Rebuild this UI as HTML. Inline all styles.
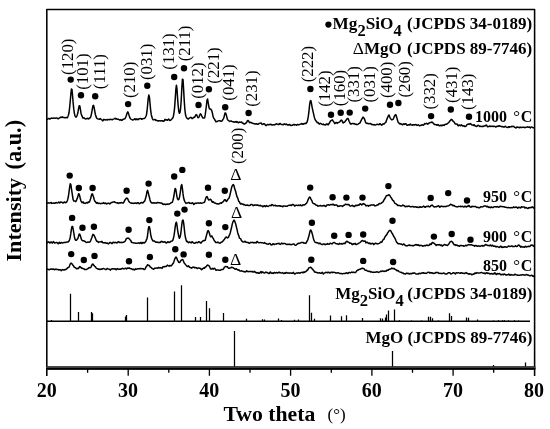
<!DOCTYPE html>
<html lang="en"><head><meta charset="utf-8"><title>XRD patterns</title>
<style>html,body{margin:0;padding:0;background:#fff}svg{display:block}text{font-family:"Liberation Serif","Times New Roman",serif;fill:#000}.b{font-weight:bold}</style></head><body>
<svg width="550" height="429" viewBox="0 0 550 429">
<rect width="550" height="429" fill="#fff"/>
<path d="M46.8,119.0 L47.4,119.3 L48.0,118.9 L48.6,118.5 L49.2,118.6 L49.8,119.1 L50.4,118.8 L51.0,118.2 L51.6,118.1 L52.2,118.2 L52.8,118.2 L53.4,118.2 L54.0,118.1 L54.6,118.1 L55.2,118.3 L55.8,118.2 L56.4,117.9 L57.0,118.0 L57.6,118.6 L58.2,118.8 L58.8,118.3 L59.4,118.0 L60.0,117.7 L60.6,117.2 L61.2,117.5 L61.8,117.3 L62.4,116.8 L63.0,117.5 L63.6,117.6 L64.2,117.5 L64.8,117.8 L65.4,117.7 L66.0,117.5 L66.6,117.5 L67.2,117.9 L67.8,116.8 L68.4,115.3 L69.0,112.8 L69.6,107.8 L70.2,101.8 L70.8,94.8 L71.4,89.0 L72.0,89.6 L72.6,96.2 L73.2,103.5 L73.8,109.4 L74.4,113.4 L75.0,115.7 L75.6,117.0 L76.2,117.0 L76.8,116.1 L77.4,114.5 L78.0,112.0 L78.6,108.5 L79.2,105.7 L79.8,106.0 L80.4,109.4 L81.0,113.2 L81.6,115.1 L82.2,116.3 L82.8,118.1 L83.4,117.9 L84.0,117.8 L84.6,118.4 L85.2,118.8 L85.8,119.1 L86.4,118.7 L87.0,118.4 L87.6,118.3 L88.2,118.8 L88.8,118.9 L89.4,118.0 L90.0,117.9 L90.6,117.2 L91.2,115.1 L91.8,112.1 L92.4,108.7 L93.0,105.7 L93.6,105.3 L94.2,108.0 L94.8,111.4 L95.4,114.5 L96.0,116.4 L96.6,117.9 L97.2,118.6 L97.8,118.9 L98.4,118.9 L99.0,119.1 L99.6,119.3 L100.2,118.6 L100.8,119.2 L101.4,119.6 L102.0,119.9 L102.6,120.9 L103.2,120.4 L103.8,119.3 L104.4,119.7 L105.0,119.8 L105.6,119.9 L106.2,119.6 L106.8,120.0 L107.4,120.0 L108.0,119.4 L108.6,119.6 L109.2,119.7 L109.8,119.5 L110.4,119.3 L111.0,119.4 L111.6,119.6 L112.2,119.7 L112.8,119.5 L113.4,119.1 L114.0,118.9 L114.6,118.6 L115.2,118.2 L115.8,119.0 L116.4,118.8 L117.0,118.9 L117.6,119.3 L118.2,119.2 L118.8,119.5 L119.4,119.7 L120.0,120.3 L120.6,119.6 L121.2,119.8 L121.8,120.4 L122.4,120.1 L123.0,119.3 L123.6,119.3 L124.2,118.9 L124.8,118.8 L125.4,117.9 L126.0,116.5 L126.6,114.7 L127.2,112.8 L127.8,111.8 L128.4,113.1 L129.0,115.1 L129.6,117.1 L130.2,118.4 L130.8,119.0 L131.4,119.4 L132.0,119.7 L132.6,120.0 L133.2,119.9 L133.8,119.6 L134.4,119.1 L135.0,118.7 L135.6,119.7 L136.2,119.7 L136.8,118.8 L137.4,119.1 L138.0,119.8 L138.6,119.2 L139.2,118.7 L139.8,118.8 L140.4,118.4 L141.0,118.6 L141.6,119.3 L142.2,119.0 L142.8,118.8 L143.4,118.6 L144.0,118.6 L144.6,118.3 L145.2,117.7 L145.8,116.5 L146.4,115.2 L147.0,111.2 L147.6,105.1 L148.2,98.6 L148.8,94.9 L149.4,96.7 L150.0,103.2 L150.6,109.6 L151.2,114.2 L151.8,116.8 L152.4,118.6 L153.0,119.7 L153.6,119.9 L154.2,119.7 L154.8,119.4 L155.4,119.7 L156.0,120.4 L156.6,120.3 L157.2,120.6 L157.8,120.9 L158.4,120.8 L159.0,120.9 L159.6,120.7 L160.2,120.9 L160.8,120.8 L161.4,120.7 L162.0,121.0 L162.6,120.8 L163.2,121.2 L163.8,121.3 L164.4,120.5 L165.0,119.2 L165.6,119.9 L166.2,120.0 L166.8,119.7 L167.4,120.3 L168.0,119.9 L168.6,119.0 L169.2,119.7 L169.8,120.4 L170.4,120.3 L171.0,119.9 L171.6,119.5 L172.2,118.4 L172.8,117.9 L173.4,116.2 L174.0,112.8 L174.6,107.6 L175.2,99.4 L175.8,90.0 L176.4,85.2 L177.0,89.2 L177.6,98.6 L178.2,106.0 L178.8,111.5 L179.4,113.3 L180.0,112.3 L180.6,108.3 L181.2,100.5 L181.8,88.8 L182.4,79.2 L183.0,79.6 L183.6,89.0 L184.2,100.1 L184.8,108.8 L185.4,114.0 L186.0,116.5 L186.6,117.7 L187.2,118.4 L187.8,118.9 L188.4,119.1 L189.0,118.3 L189.6,117.9 L190.2,117.7 L190.8,117.3 L191.4,117.7 L192.0,118.6 L192.6,118.6 L193.2,117.8 L193.8,117.2 L194.4,117.4 L195.0,116.8 L195.6,115.4 L196.2,114.5 L196.8,115.0 L197.4,116.5 L198.0,117.7 L198.6,117.6 L199.2,116.5 L199.8,114.9 L200.4,113.8 L201.0,114.3 L201.6,115.6 L202.2,116.8 L202.8,118.0 L203.4,118.1 L204.0,118.1 L204.6,117.8 L205.2,114.9 L205.8,110.5 L206.4,105.6 L207.0,100.1 L207.6,99.0 L208.2,102.6 L208.8,106.5 L209.4,108.7 L210.0,109.1 L210.6,109.1 L211.2,109.6 L211.8,110.8 L212.4,113.0 L213.0,116.0 L213.6,117.9 L214.2,118.8 L214.8,119.6 L215.4,120.9 L216.0,121.7 L216.6,121.5 L217.2,121.6 L217.8,121.2 L218.4,120.9 L219.0,120.7 L219.6,120.8 L220.2,120.8 L220.8,121.2 L221.4,121.3 L222.0,120.8 L222.6,120.1 L223.2,119.0 L223.8,117.8 L224.4,115.6 L225.0,112.9 L225.6,112.9 L226.2,114.6 L226.8,116.9 L227.4,119.3 L228.0,120.2 L228.6,120.6 L229.2,121.0 L229.8,121.4 L230.4,121.1 L231.0,120.9 L231.6,121.4 L232.2,121.6 L232.8,121.7 L233.4,121.7 L234.0,122.3 L234.6,122.1 L235.2,121.6 L235.8,122.0 L236.4,122.3 L237.0,121.6 L237.6,122.0 L238.2,122.8 L238.8,122.6 L239.4,122.1 L240.0,122.1 L240.6,122.3 L241.2,122.3 L241.8,122.0 L242.4,123.1 L243.0,123.3 L243.6,123.5 L244.2,124.2 L244.8,123.8 L245.4,123.3 L246.0,123.1 L246.6,122.5 L247.2,121.1 L247.8,120.5 L248.4,120.7 L249.0,121.8 L249.6,122.7 L250.2,122.5 L250.8,122.3 L251.4,122.7 L252.0,123.1 L252.6,123.2 L253.2,123.4 L253.8,123.7 L254.4,123.8 L255.0,124.0 L255.6,124.0 L256.2,123.8 L256.8,123.8 L257.4,124.2 L258.0,124.3 L258.6,123.9 L259.2,123.4 L259.8,123.3 L260.4,123.1 L261.0,122.8 L261.6,123.7 L262.2,124.4 L262.8,124.3 L263.4,123.8 L264.0,123.7 L264.6,124.1 L265.2,124.8 L265.8,125.6 L266.4,125.5 L267.0,124.8 L267.6,124.4 L268.2,124.6 L268.8,124.9 L269.4,124.4 L270.0,124.5 L270.6,124.3 L271.2,124.4 L271.8,125.0 L272.4,125.0 L273.0,124.8 L273.6,124.7 L274.2,124.9 L274.8,124.8 L275.4,124.3 L276.0,124.0 L276.6,123.8 L277.2,124.1 L277.8,124.4 L278.4,124.3 L279.0,124.5 L279.6,123.7 L280.2,123.4 L280.8,124.2 L281.4,124.5 L282.0,124.4 L282.6,124.7 L283.2,124.8 L283.8,124.1 L284.4,123.8 L285.0,124.4 L285.6,124.6 L286.2,124.0 L286.8,124.3 L287.4,125.0 L288.0,124.9 L288.6,125.1 L289.2,124.4 L289.8,124.5 L290.4,125.3 L291.0,125.6 L291.6,125.3 L292.2,125.3 L292.8,125.0 L293.4,124.8 L294.0,124.3 L294.6,125.0 L295.2,124.7 L295.8,124.7 L296.4,125.3 L297.0,124.7 L297.6,124.5 L298.2,124.7 L298.8,124.7 L299.4,124.6 L300.0,124.3 L300.6,124.1 L301.2,124.1 L301.8,123.5 L302.4,123.8 L303.0,124.3 L303.6,123.8 L304.2,123.5 L304.8,123.7 L305.4,123.3 L306.0,123.5 L306.6,122.8 L307.2,121.7 L307.8,119.3 L308.4,115.7 L309.0,110.8 L309.6,105.2 L310.2,101.2 L310.8,100.5 L311.4,103.0 L312.0,106.6 L312.6,109.6 L313.2,112.1 L313.8,114.8 L314.4,117.4 L315.0,119.1 L315.6,120.5 L316.2,121.1 L316.8,122.0 L317.4,122.7 L318.0,122.5 L318.6,123.2 L319.2,124.1 L319.8,123.7 L320.4,123.3 L321.0,123.7 L321.6,124.1 L322.2,124.5 L322.8,124.4 L323.4,124.0 L324.0,124.7 L324.6,124.8 L325.2,125.0 L325.8,124.8 L326.4,124.0 L327.0,123.9 L327.6,124.5 L328.2,124.8 L328.8,123.8 L329.4,123.0 L330.0,122.0 L330.6,120.9 L331.2,120.5 L331.8,120.2 L332.4,119.8 L333.0,120.9 L333.6,121.7 L334.2,122.7 L334.8,123.6 L335.4,123.1 L336.0,122.4 L336.6,122.5 L337.2,123.4 L337.8,122.6 L338.4,122.4 L339.0,122.4 L339.6,122.0 L340.2,121.3 L340.8,120.4 L341.4,120.1 L342.0,120.6 L342.6,122.0 L343.2,123.0 L343.8,122.5 L344.4,122.3 L345.0,121.7 L345.6,120.7 L346.2,120.1 L346.8,119.1 L347.4,118.4 L348.0,118.4 L348.6,119.7 L349.2,121.5 L349.8,122.6 L350.4,123.9 L351.0,124.2 L351.6,123.7 L352.2,123.6 L352.8,123.6 L353.4,123.6 L354.0,123.9 L354.6,123.5 L355.2,124.2 L355.8,124.4 L356.4,124.3 L357.0,124.4 L357.6,124.4 L358.2,124.1 L358.8,123.7 L359.4,123.3 L360.0,122.9 L360.6,121.6 L361.2,120.4 L361.8,119.2 L362.4,118.1 L363.0,117.1 L363.6,117.7 L364.2,118.4 L364.8,119.9 L365.4,121.8 L366.0,123.0 L366.6,123.3 L367.2,123.5 L367.8,123.3 L368.4,123.7 L369.0,123.7 L369.6,123.7 L370.2,123.4 L370.8,123.7 L371.4,124.4 L372.0,124.3 L372.6,124.6 L373.2,124.9 L373.8,124.5 L374.4,124.7 L375.0,125.1 L375.6,125.0 L376.2,124.7 L376.8,124.3 L377.4,124.3 L378.0,124.4 L378.6,124.7 L379.2,124.5 L379.8,123.7 L380.4,123.8 L381.0,124.7 L381.6,125.2 L382.2,124.9 L382.8,123.9 L383.4,124.1 L384.0,124.2 L384.6,123.1 L385.2,122.9 L385.8,122.5 L386.4,120.6 L387.0,118.9 L387.6,117.7 L388.2,116.1 L388.8,115.0 L389.4,116.0 L390.0,117.6 L390.6,118.6 L391.2,119.4 L391.8,119.8 L392.4,119.6 L393.0,119.3 L393.6,118.3 L394.2,116.7 L394.8,115.6 L395.4,114.7 L396.0,115.0 L396.6,117.1 L397.2,119.0 L397.8,121.2 L398.4,122.6 L399.0,123.0 L399.6,123.9 L400.2,124.1 L400.8,123.5 L401.4,124.2 L402.0,124.5 L402.6,124.7 L403.2,123.9 L403.8,123.8 L404.4,124.5 L405.0,124.1 L405.6,123.7 L406.2,124.0 L406.8,125.1 L407.4,125.3 L408.0,124.9 L408.6,124.7 L409.2,125.1 L409.8,124.4 L410.4,124.0 L411.0,124.9 L411.6,125.1 L412.2,125.0 L412.8,125.2 L413.4,124.7 L414.0,124.7 L414.6,125.0 L415.2,124.7 L415.8,124.5 L416.4,124.8 L417.0,125.4 L417.6,125.2 L418.2,124.8 L418.8,125.2 L419.4,125.8 L420.0,125.6 L420.6,125.5 L421.2,125.3 L421.8,124.8 L422.4,124.8 L423.0,125.1 L423.6,125.2 L424.2,124.3 L424.8,123.6 L425.4,123.9 L426.0,123.7 L426.6,123.3 L427.2,123.7 L427.8,124.2 L428.4,123.7 L429.0,123.2 L429.6,122.8 L430.2,122.5 L430.8,122.6 L431.4,122.3 L432.0,121.9 L432.6,122.7 L433.2,123.1 L433.8,123.7 L434.4,124.5 L435.0,124.4 L435.6,124.7 L436.2,124.7 L436.8,125.2 L437.4,125.0 L438.0,124.5 L438.6,125.1 L439.2,125.8 L439.8,125.8 L440.4,125.5 L441.0,125.1 L441.6,125.7 L442.2,125.6 L442.8,125.0 L443.4,125.1 L444.0,125.5 L444.6,124.9 L445.2,124.4 L445.8,124.2 L446.4,124.2 L447.0,124.0 L447.6,123.4 L448.2,123.0 L448.8,122.6 L449.4,121.5 L450.0,120.9 L450.6,120.3 L451.2,119.3 L451.8,119.6 L452.4,120.3 L453.0,121.2 L453.6,121.7 L454.2,122.1 L454.8,123.2 L455.4,123.9 L456.0,123.9 L456.6,123.9 L457.2,124.2 L457.8,125.4 L458.4,125.8 L459.0,124.9 L459.6,125.2 L460.2,125.7 L460.8,125.5 L461.4,124.9 L462.0,125.4 L462.6,126.1 L463.2,126.0 L463.8,125.7 L464.4,126.1 L465.0,126.6 L465.6,126.3 L466.2,126.0 L466.8,124.8 L467.4,124.4 L468.0,124.2 L468.6,124.0 L469.2,124.2 L469.8,124.0 L470.4,123.5 L471.0,124.0 L471.6,124.8 L472.2,124.9 L472.8,125.2 L473.4,125.5 L474.0,124.7 L474.6,125.1 L475.2,126.0 L475.8,126.1 L476.4,126.5 L477.0,126.3 L477.6,125.4 L478.2,125.3 L478.8,125.7 L479.4,126.1 L480.0,126.6 L480.6,126.2 L481.2,126.4 L481.8,126.4 L482.4,126.3 L483.0,126.6 L483.6,126.2 L484.2,126.0 L484.8,125.8 L485.4,125.7 L486.0,125.1 L486.6,125.2 L487.2,126.3 L487.8,126.8 L488.4,126.6 L489.0,126.6 L489.6,125.9 L490.2,126.2 L490.8,126.5 L491.4,126.3 L492.0,126.2 L492.6,126.4 L493.2,126.3 L493.8,126.4 L494.4,126.2 L495.0,126.4 L495.6,127.1 L496.2,126.9 L496.8,126.2 L497.4,126.3 L498.0,126.4 L498.6,125.9 L499.2,125.7 L499.8,126.2 L500.4,126.2 L501.0,126.3 L501.6,126.7 L502.2,126.7 L502.8,126.6 L503.4,126.8 L504.0,127.2 L504.6,126.8 L505.2,126.2 L505.8,126.7 L506.4,127.1 L507.0,127.4 L507.6,127.6 L508.2,127.0 L508.8,126.7 L509.4,127.2 L510.0,126.7 L510.6,126.9 L511.2,126.8 L511.8,126.2 L512.4,126.5 L513.0,126.6 L513.6,126.3 L514.2,126.9 L514.8,127.3 L515.4,127.7 L516.0,128.0 L516.6,127.2 L517.2,127.0 L517.8,127.3 L518.4,127.3 L519.0,127.6 L519.6,127.7 L520.2,127.0 L520.8,127.4 L521.4,127.4 L522.0,127.4 L522.6,127.3 L523.2,127.3 L523.8,127.2 L524.4,127.5 L525.0,127.7 L525.6,127.3 L526.2,127.3 L526.8,127.1 L527.4,126.8 L528.0,127.2 L528.6,127.3 L529.2,126.9 L529.8,127.4 L530.4,127.9 L531.0,127.1 L531.6,126.9 L532.2,127.3 L532.8,127.7 L533.4,127.7 L534.0,127.7 L534.6,127.6" fill="none" stroke="#000" stroke-width="1.5" stroke-linejoin="round"/>
<path d="M46.8,203.0 L47.4,203.1 L48.0,202.8 L48.6,202.9 L49.2,203.1 L49.8,203.1 L50.4,202.8 L51.0,202.5 L51.6,203.4 L52.2,203.2 L52.8,203.3 L53.4,202.9 L54.0,203.0 L54.6,203.2 L55.2,203.2 L55.8,202.7 L56.4,202.5 L57.0,202.9 L57.6,202.9 L58.2,202.6 L58.8,202.0 L59.4,202.9 L60.0,202.8 L60.6,202.0 L61.2,202.2 L61.8,202.3 L62.4,202.4 L63.0,203.1 L63.6,202.7 L64.2,202.0 L64.8,202.1 L65.4,202.7 L66.0,202.5 L66.6,202.2 L67.2,201.0 L67.8,199.2 L68.4,196.5 L69.0,192.1 L69.6,187.6 L70.2,183.8 L70.8,184.3 L71.4,188.3 L72.0,192.3 L72.6,196.5 L73.2,199.8 L73.8,201.1 L74.4,201.0 L75.0,200.9 L75.6,201.6 L76.2,201.0 L76.8,199.4 L77.4,198.2 L78.0,196.0 L78.6,193.7 L79.2,194.1 L79.8,196.3 L80.4,199.1 L81.0,201.0 L81.6,202.1 L82.2,202.8 L82.8,202.1 L83.4,202.1 L84.0,203.3 L84.6,203.3 L85.2,203.4 L85.8,203.0 L86.4,202.6 L87.0,203.0 L87.6,203.0 L88.2,202.0 L88.8,202.3 L89.4,201.9 L90.0,200.6 L90.6,198.7 L91.2,196.3 L91.8,194.2 L92.4,193.8 L93.0,195.4 L93.6,197.2 L94.2,199.5 L94.8,201.2 L95.4,201.6 L96.0,202.6 L96.6,203.2 L97.2,202.6 L97.8,203.3 L98.4,203.6 L99.0,203.1 L99.6,203.4 L100.2,203.7 L100.8,203.6 L101.4,203.5 L102.0,203.2 L102.6,203.4 L103.2,203.3 L103.8,202.6 L104.4,203.4 L105.0,203.5 L105.6,203.1 L106.2,203.8 L106.8,203.9 L107.4,203.4 L108.0,203.3 L108.6,203.3 L109.2,203.4 L109.8,203.9 L110.4,203.4 L111.0,202.7 L111.6,202.6 L112.2,202.5 L112.8,202.0 L113.4,202.1 L114.0,202.0 L114.6,201.8 L115.2,202.4 L115.8,202.7 L116.4,202.9 L117.0,202.7 L117.6,202.7 L118.2,203.4 L118.8,203.3 L119.4,202.9 L120.0,202.7 L120.6,203.0 L121.2,202.7 L121.8,202.5 L122.4,202.9 L123.0,203.2 L123.6,202.7 L124.2,201.7 L124.8,200.1 L125.4,199.5 L126.0,198.6 L126.6,198.1 L127.2,198.3 L127.8,199.0 L128.4,200.6 L129.0,201.5 L129.6,202.3 L130.2,202.7 L130.8,203.0 L131.4,203.0 L132.0,203.3 L132.6,203.1 L133.2,203.5 L133.8,203.3 L134.4,203.3 L135.0,203.0 L135.6,202.9 L136.2,203.4 L136.8,203.6 L137.4,202.7 L138.0,202.7 L138.6,203.0 L139.2,203.8 L139.8,203.6 L140.4,203.2 L141.0,202.7 L141.6,202.5 L142.2,202.8 L142.8,203.1 L143.4,202.3 L144.0,201.7 L144.6,201.2 L145.2,199.5 L145.8,197.5 L146.4,195.0 L147.0,191.5 L147.6,190.4 L148.2,192.4 L148.8,195.0 L149.4,197.2 L150.0,199.9 L150.6,201.8 L151.2,202.4 L151.8,203.0 L152.4,202.9 L153.0,202.8 L153.6,202.9 L154.2,202.8 L154.8,202.9 L155.4,202.9 L156.0,203.2 L156.6,203.0 L157.2,202.6 L157.8,202.5 L158.4,202.7 L159.0,202.8 L159.6,202.7 L160.2,203.0 L160.8,202.9 L161.4,202.9 L162.0,203.3 L162.6,203.9 L163.2,204.5 L163.8,204.2 L164.4,204.1 L165.0,204.4 L165.6,204.7 L166.2,204.2 L166.8,204.2 L167.4,204.0 L168.0,204.4 L168.6,204.1 L169.2,204.1 L169.8,203.7 L170.4,203.3 L171.0,202.7 L171.6,202.7 L172.2,202.4 L172.8,200.7 L173.4,198.5 L174.0,195.5 L174.6,191.1 L175.2,188.4 L175.8,189.4 L176.4,193.2 L177.0,196.9 L177.6,199.0 L178.2,199.7 L178.8,199.6 L179.4,197.6 L180.0,194.3 L180.6,190.2 L181.2,185.7 L181.8,184.6 L182.4,188.4 L183.0,193.7 L183.6,197.8 L184.2,200.1 L184.8,201.5 L185.4,202.6 L186.0,203.4 L186.6,203.1 L187.2,203.0 L187.8,203.0 L188.4,202.5 L189.0,202.6 L189.6,203.3 L190.2,203.2 L190.8,203.3 L191.4,203.5 L192.0,203.0 L192.6,202.8 L193.2,203.6 L193.8,204.5 L194.4,204.1 L195.0,203.3 L195.6,203.2 L196.2,203.4 L196.8,203.0 L197.4,203.1 L198.0,203.1 L198.6,203.0 L199.2,203.2 L199.8,203.1 L200.4,202.8 L201.0,203.0 L201.6,203.3 L202.2,203.1 L202.8,202.9 L203.4,202.6 L204.0,202.5 L204.6,202.1 L205.2,200.1 L205.8,198.1 L206.4,196.9 L207.0,196.5 L207.6,197.7 L208.2,199.2 L208.8,199.9 L209.4,199.8 L210.0,199.5 L210.6,199.3 L211.2,200.1 L211.8,201.5 L212.4,202.2 L213.0,201.6 L213.6,202.0 L214.2,202.9 L214.8,203.0 L215.4,203.1 L216.0,203.5 L216.6,203.7 L217.2,203.9 L217.8,203.7 L218.4,204.0 L219.0,204.0 L219.6,203.5 L220.2,203.3 L220.8,202.7 L221.4,203.2 L222.0,202.6 L222.6,201.9 L223.2,201.8 L223.8,200.9 L224.4,200.0 L225.0,199.7 L225.6,200.2 L226.2,201.5 L226.8,201.1 L227.4,200.3 L228.0,199.0 L228.6,198.6 L229.2,197.8 L229.8,195.6 L230.4,193.1 L231.0,190.4 L231.6,187.6 L232.2,185.9 L232.8,184.9 L233.4,184.6 L234.0,185.8 L234.6,188.2 L235.2,190.0 L235.8,192.0 L236.4,194.5 L237.0,196.7 L237.6,197.8 L238.2,199.5 L238.8,201.6 L239.4,201.7 L240.0,203.2 L240.6,204.0 L241.2,203.5 L241.8,204.0 L242.4,204.3 L243.0,204.0 L243.6,204.8 L244.2,204.6 L244.8,204.7 L245.4,205.3 L246.0,205.4 L246.6,205.1 L247.2,205.2 L247.8,205.0 L248.4,205.5 L249.0,205.4 L249.6,205.5 L250.2,205.3 L250.8,204.6 L251.4,204.6 L252.0,204.6 L252.6,205.0 L253.2,205.7 L253.8,205.3 L254.4,205.0 L255.0,205.2 L255.6,205.1 L256.2,205.0 L256.8,205.2 L257.4,205.0 L258.0,205.1 L258.6,205.6 L259.2,205.7 L259.8,205.5 L260.4,205.3 L261.0,206.0 L261.6,206.1 L262.2,206.1 L262.8,206.8 L263.4,206.4 L264.0,205.8 L264.6,205.8 L265.2,206.6 L265.8,206.1 L266.4,205.6 L267.0,206.2 L267.6,206.3 L268.2,206.4 L268.8,206.0 L269.4,205.5 L270.0,205.5 L270.6,205.6 L271.2,205.7 L271.8,204.5 L272.4,204.7 L273.0,205.2 L273.6,205.8 L274.2,205.6 L274.8,205.3 L275.4,205.3 L276.0,205.9 L276.6,205.8 L277.2,205.8 L277.8,206.1 L278.4,205.8 L279.0,205.7 L279.6,206.0 L280.2,205.8 L280.8,206.3 L281.4,206.3 L282.0,206.1 L282.6,206.8 L283.2,206.3 L283.8,205.9 L284.4,205.9 L285.0,206.1 L285.6,206.2 L286.2,206.3 L286.8,206.2 L287.4,206.0 L288.0,205.7 L288.6,205.4 L289.2,205.2 L289.8,205.4 L290.4,205.0 L291.0,205.4 L291.6,205.5 L292.2,204.4 L292.8,204.5 L293.4,204.8 L294.0,204.9 L294.6,206.1 L295.2,205.8 L295.8,205.2 L296.4,205.2 L297.0,205.3 L297.6,205.5 L298.2,205.5 L298.8,205.0 L299.4,205.5 L300.0,205.4 L300.6,204.9 L301.2,205.6 L301.8,205.8 L302.4,205.3 L303.0,204.8 L303.6,205.0 L304.2,205.0 L304.8,204.8 L305.4,204.2 L306.0,203.6 L306.6,203.2 L307.2,202.0 L307.8,200.4 L308.4,199.2 L309.0,197.8 L309.6,197.1 L310.2,197.4 L310.8,198.8 L311.4,199.8 L312.0,201.0 L312.6,202.7 L313.2,203.3 L313.8,203.7 L314.4,203.7 L315.0,204.2 L315.6,204.6 L316.2,205.2 L316.8,205.2 L317.4,205.7 L318.0,206.2 L318.6,205.9 L319.2,205.9 L319.8,205.7 L320.4,205.5 L321.0,205.8 L321.6,206.1 L322.2,206.0 L322.8,205.7 L323.4,205.6 L324.0,205.7 L324.6,205.5 L325.2,206.3 L325.8,206.4 L326.4,205.8 L327.0,205.0 L327.6,204.9 L328.2,204.7 L328.8,205.0 L329.4,205.2 L330.0,204.8 L330.6,204.7 L331.2,204.4 L331.8,204.8 L332.4,204.7 L333.0,204.2 L333.6,204.4 L334.2,205.4 L334.8,205.2 L335.4,205.0 L336.0,205.0 L336.6,204.9 L337.2,205.3 L337.8,206.5 L338.4,206.2 L339.0,206.0 L339.6,206.2 L340.2,205.9 L340.8,205.7 L341.4,205.9 L342.0,206.0 L342.6,206.5 L343.2,205.8 L343.8,205.2 L344.4,205.3 L345.0,204.7 L345.6,204.2 L346.2,204.4 L346.8,204.4 L347.4,204.4 L348.0,204.8 L348.6,204.4 L349.2,204.8 L349.8,206.0 L350.4,206.0 L351.0,205.9 L351.6,205.6 L352.2,205.3 L352.8,205.9 L353.4,205.9 L354.0,206.5 L354.6,206.4 L355.2,205.7 L355.8,205.3 L356.4,205.3 L357.0,205.7 L357.6,205.3 L358.2,204.8 L358.8,205.2 L359.4,204.9 L360.0,203.8 L360.6,204.0 L361.2,204.3 L361.8,205.0 L362.4,204.5 L363.0,203.8 L363.6,203.6 L364.2,204.3 L364.8,204.3 L365.4,205.0 L366.0,205.9 L366.6,205.7 L367.2,205.4 L367.8,205.5 L368.4,206.1 L369.0,205.6 L369.6,205.5 L370.2,205.6 L370.8,205.0 L371.4,205.0 L372.0,205.1 L372.6,204.9 L373.2,204.9 L373.8,204.8 L374.4,205.4 L375.0,205.9 L375.6,205.7 L376.2,205.5 L376.8,205.2 L377.4,204.8 L378.0,204.9 L378.6,204.2 L379.2,203.5 L379.8,203.7 L380.4,203.7 L381.0,203.4 L381.6,202.9 L382.2,202.4 L382.8,202.0 L383.4,201.2 L384.0,199.9 L384.6,199.0 L385.2,198.0 L385.8,196.9 L386.4,195.7 L387.0,195.6 L387.6,195.5 L388.2,195.3 L388.8,194.8 L389.4,194.9 L390.0,195.9 L390.6,196.9 L391.2,197.8 L391.8,198.6 L392.4,199.8 L393.0,200.6 L393.6,200.8 L394.2,202.0 L394.8,203.3 L395.4,203.5 L396.0,203.9 L396.6,204.4 L397.2,204.9 L397.8,205.5 L398.4,205.3 L399.0,205.6 L399.6,205.6 L400.2,205.8 L400.8,206.0 L401.4,206.1 L402.0,205.9 L402.6,205.1 L403.2,205.2 L403.8,205.7 L404.4,205.8 L405.0,206.5 L405.6,206.7 L406.2,206.3 L406.8,206.3 L407.4,206.5 L408.0,206.3 L408.6,206.2 L409.2,206.0 L409.8,206.5 L410.4,206.7 L411.0,206.7 L411.6,206.7 L412.2,206.5 L412.8,206.5 L413.4,206.7 L414.0,207.0 L414.6,207.1 L415.2,206.8 L415.8,206.7 L416.4,207.2 L417.0,207.4 L417.6,207.0 L418.2,207.3 L418.8,207.6 L419.4,207.2 L420.0,206.7 L420.6,207.2 L421.2,207.3 L421.8,207.0 L422.4,207.0 L423.0,206.5 L423.6,206.1 L424.2,206.7 L424.8,207.2 L425.4,207.2 L426.0,206.7 L426.6,206.3 L427.2,206.6 L427.8,206.3 L428.4,206.1 L429.0,206.7 L429.6,206.9 L430.2,206.6 L430.8,205.7 L431.4,205.5 L432.0,205.1 L432.6,205.3 L433.2,206.2 L433.8,206.8 L434.4,206.9 L435.0,206.8 L435.6,206.8 L436.2,206.6 L436.8,206.7 L437.4,206.3 L438.0,205.9 L438.6,205.8 L439.2,206.5 L439.8,207.2 L440.4,206.9 L441.0,206.1 L441.6,206.2 L442.2,206.5 L442.8,206.6 L443.4,206.6 L444.0,206.7 L444.6,206.4 L445.2,206.4 L445.8,206.7 L446.4,206.3 L447.0,206.1 L447.6,205.9 L448.2,205.9 L448.8,205.7 L449.4,205.3 L450.0,204.9 L450.6,204.2 L451.2,204.5 L451.8,204.9 L452.4,205.0 L453.0,205.8 L453.6,205.5 L454.2,205.5 L454.8,206.2 L455.4,206.5 L456.0,206.6 L456.6,206.8 L457.2,206.9 L457.8,206.7 L458.4,206.6 L459.0,206.6 L459.6,206.4 L460.2,206.2 L460.8,206.7 L461.4,206.6 L462.0,206.4 L462.6,206.3 L463.2,206.7 L463.8,207.0 L464.4,206.7 L465.0,206.2 L465.6,206.4 L466.2,206.9 L466.8,206.8 L467.4,206.2 L468.0,206.4 L468.6,205.5 L469.2,205.7 L469.8,206.5 L470.4,207.1 L471.0,207.2 L471.6,206.5 L472.2,206.3 L472.8,206.7 L473.4,206.4 L474.0,206.6 L474.6,206.4 L475.2,206.4 L475.8,206.7 L476.4,207.3 L477.0,207.4 L477.6,207.2 L478.2,207.5 L478.8,207.8 L479.4,207.8 L480.0,207.5 L480.6,206.9 L481.2,206.7 L481.8,206.8 L482.4,206.9 L483.0,206.7 L483.6,206.3 L484.2,205.9 L484.8,205.9 L485.4,206.0 L486.0,206.2 L486.6,206.8 L487.2,206.3 L487.8,206.5 L488.4,207.4 L489.0,207.1 L489.6,207.2 L490.2,207.7 L490.8,207.1 L491.4,206.9 L492.0,207.4 L492.6,207.4 L493.2,207.4 L493.8,206.9 L494.4,206.7 L495.0,206.7 L495.6,206.7 L496.2,207.0 L496.8,206.8 L497.4,206.6 L498.0,207.0 L498.6,207.2 L499.2,207.1 L499.8,206.5 L500.4,206.3 L501.0,206.5 L501.6,206.5 L502.2,206.6 L502.8,206.8 L503.4,206.8 L504.0,206.8 L504.6,207.0 L505.2,207.2 L505.8,207.2 L506.4,207.4 L507.0,207.7 L507.6,207.7 L508.2,207.4 L508.8,207.7 L509.4,207.8 L510.0,207.8 L510.6,207.7 L511.2,207.6 L511.8,207.8 L512.4,207.8 L513.0,207.6 L513.6,206.9 L514.2,207.3 L514.8,207.6 L515.4,207.2 L516.0,207.1 L516.6,207.2 L517.2,207.6 L517.8,208.2 L518.4,207.3 L519.0,207.3 L519.6,207.5 L520.2,207.9 L520.8,207.8 L521.4,206.7 L522.0,206.9 L522.6,207.2 L523.2,207.1 L523.8,206.9 L524.4,207.0 L525.0,208.1 L525.6,207.5 L526.2,207.5 L526.8,208.0 L527.4,208.3 L528.0,208.6 L528.6,207.8 L529.2,207.6 L529.8,207.9 L530.4,207.4 L531.0,207.5 L531.6,207.4 L532.2,206.9 L532.8,207.5 L533.4,208.0 L534.0,207.2 L534.6,207.6" fill="none" stroke="#000" stroke-width="1.5" stroke-linejoin="round"/>
<path d="M46.8,242.1 L47.4,242.8 L48.0,242.2 L48.6,241.8 L49.2,242.2 L49.8,242.9 L50.4,242.7 L51.0,241.9 L51.6,242.3 L52.2,243.1 L52.8,242.7 L53.4,241.6 L54.0,242.2 L54.6,242.9 L55.2,242.8 L55.8,242.8 L56.4,242.5 L57.0,242.5 L57.6,243.0 L58.2,243.8 L58.8,242.9 L59.4,242.2 L60.0,243.3 L60.6,243.3 L61.2,242.5 L61.8,242.6 L62.4,243.0 L63.0,242.9 L63.6,242.5 L64.2,242.4 L64.8,242.3 L65.4,242.5 L66.0,242.4 L66.6,242.0 L67.2,242.0 L67.8,242.0 L68.4,241.8 L69.0,241.0 L69.6,239.7 L70.2,237.4 L70.8,233.7 L71.4,229.4 L72.0,226.4 L72.6,226.5 L73.2,229.3 L73.8,233.0 L74.4,236.7 L75.0,239.2 L75.6,240.2 L76.2,240.3 L76.8,239.8 L77.4,239.1 L78.0,238.1 L78.6,236.1 L79.2,233.9 L79.8,234.1 L80.4,236.1 L81.0,237.9 L81.6,239.8 L82.2,240.4 L82.8,240.8 L83.4,240.7 L84.0,240.9 L84.6,241.3 L85.2,241.5 L85.8,242.1 L86.4,242.5 L87.0,242.5 L87.6,242.1 L88.2,242.1 L88.8,242.2 L89.4,242.2 L90.0,241.8 L90.6,240.8 L91.2,239.3 L91.8,237.7 L92.4,235.7 L93.0,234.4 L93.6,234.8 L94.2,235.5 L94.8,236.9 L95.4,238.3 L96.0,239.7 L96.6,241.3 L97.2,241.2 L97.8,241.5 L98.4,242.5 L99.0,242.1 L99.6,241.9 L100.2,241.7 L100.8,241.9 L101.4,241.9 L102.0,241.4 L102.6,242.6 L103.2,242.9 L103.8,242.7 L104.4,242.9 L105.0,242.5 L105.6,242.9 L106.2,243.3 L106.8,243.0 L107.4,243.2 L108.0,243.7 L108.6,243.9 L109.2,243.1 L109.8,242.5 L110.4,242.4 L111.0,242.8 L111.6,243.4 L112.2,243.4 L112.8,242.7 L113.4,242.2 L114.0,242.5 L114.6,242.7 L115.2,242.3 L115.8,242.4 L116.4,242.8 L117.0,243.0 L117.6,242.5 L118.2,241.7 L118.8,241.8 L119.4,242.4 L120.0,242.5 L120.6,242.4 L121.2,242.3 L121.8,242.6 L122.4,242.6 L123.0,242.3 L123.6,242.2 L124.2,241.8 L124.8,241.6 L125.4,240.8 L126.0,239.3 L126.6,238.5 L127.2,238.3 L127.8,238.1 L128.4,238.2 L129.0,238.7 L129.6,239.1 L130.2,239.9 L130.8,240.6 L131.4,242.1 L132.0,242.6 L132.6,242.6 L133.2,242.8 L133.8,242.9 L134.4,242.9 L135.0,242.9 L135.6,243.2 L136.2,243.3 L136.8,243.2 L137.4,243.2 L138.0,243.1 L138.6,242.8 L139.2,242.9 L139.8,243.4 L140.4,242.9 L141.0,242.4 L141.6,243.4 L142.2,243.4 L142.8,242.5 L143.4,242.4 L144.0,243.1 L144.6,242.7 L145.2,242.1 L145.8,241.5 L146.4,239.8 L147.0,238.6 L147.6,235.1 L148.2,230.0 L148.8,226.7 L149.4,226.7 L150.0,229.7 L150.6,233.8 L151.2,237.1 L151.8,238.8 L152.4,240.0 L153.0,241.0 L153.6,241.0 L154.2,240.9 L154.8,241.4 L155.4,242.0 L156.0,242.2 L156.6,242.0 L157.2,242.1 L157.8,242.5 L158.4,242.4 L159.0,242.3 L159.6,242.4 L160.2,242.5 L160.8,241.9 L161.4,241.3 L162.0,241.8 L162.6,241.6 L163.2,242.3 L163.8,242.1 L164.4,241.8 L165.0,241.8 L165.6,242.4 L166.2,242.9 L166.8,242.9 L167.4,242.1 L168.0,241.7 L168.6,242.3 L169.2,242.5 L169.8,242.0 L170.4,241.9 L171.0,241.3 L171.6,241.1 L172.2,241.1 L172.8,240.3 L173.4,238.2 L174.0,235.7 L174.6,231.7 L175.2,226.8 L175.8,223.1 L176.4,222.2 L177.0,225.3 L177.6,230.1 L178.2,233.5 L178.8,236.7 L179.4,238.3 L180.0,237.2 L180.6,234.8 L181.2,230.0 L181.8,224.6 L182.4,220.6 L183.0,220.0 L183.6,222.7 L184.2,227.6 L184.8,233.5 L185.4,237.3 L186.0,239.5 L186.6,241.4 L187.2,241.2 L187.8,242.0 L188.4,242.7 L189.0,242.2 L189.6,241.9 L190.2,242.5 L190.8,242.6 L191.4,242.9 L192.0,241.7 L192.6,242.2 L193.2,242.7 L193.8,243.1 L194.4,243.3 L195.0,243.2 L195.6,242.6 L196.2,242.3 L196.8,242.5 L197.4,242.7 L198.0,242.5 L198.6,241.8 L199.2,241.7 L199.8,242.3 L200.4,242.9 L201.0,243.0 L201.6,242.0 L202.2,241.7 L202.8,241.2 L203.4,240.7 L204.0,240.4 L204.6,240.7 L205.2,240.4 L205.8,238.0 L206.4,235.6 L207.0,233.5 L207.6,231.3 L208.2,230.6 L208.8,231.4 L209.4,233.2 L210.0,235.2 L210.6,236.7 L211.2,236.6 L211.8,235.9 L212.4,237.1 L213.0,238.1 L213.6,239.2 L214.2,240.5 L214.8,241.2 L215.4,242.2 L216.0,242.6 L216.6,242.6 L217.2,242.6 L217.8,242.1 L218.4,242.4 L219.0,242.9 L219.6,243.2 L220.2,243.1 L220.8,242.7 L221.4,242.0 L222.0,242.0 L222.6,241.6 L223.2,240.8 L223.8,239.8 L224.4,239.5 L225.0,238.3 L225.6,237.4 L226.2,237.0 L226.8,237.3 L227.4,238.0 L228.0,237.6 L228.6,237.0 L229.2,235.4 L229.8,234.4 L230.4,232.4 L231.0,229.7 L231.6,227.3 L232.2,224.4 L232.8,222.1 L233.4,221.3 L234.0,220.1 L234.6,220.9 L235.2,222.6 L235.8,224.2 L236.4,226.8 L237.0,229.4 L237.6,232.2 L238.2,234.4 L238.8,235.6 L239.4,238.1 L240.0,238.4 L240.6,238.6 L241.2,240.2 L241.8,241.1 L242.4,241.3 L243.0,242.1 L243.6,242.1 L244.2,241.9 L244.8,241.2 L245.4,241.6 L246.0,242.2 L246.6,242.2 L247.2,242.6 L247.8,242.5 L248.4,242.6 L249.0,243.3 L249.6,243.3 L250.2,242.7 L250.8,242.3 L251.4,242.6 L252.0,242.6 L252.6,242.3 L253.2,242.5 L253.8,242.9 L254.4,242.8 L255.0,242.4 L255.6,242.7 L256.2,243.0 L256.8,241.7 L257.4,241.4 L258.0,242.3 L258.6,242.7 L259.2,242.8 L259.8,242.6 L260.4,242.4 L261.0,242.6 L261.6,242.8 L262.2,242.7 L262.8,242.9 L263.4,243.1 L264.0,243.3 L264.6,242.5 L265.2,243.1 L265.8,243.5 L266.4,243.7 L267.0,244.1 L267.6,244.1 L268.2,244.3 L268.8,243.8 L269.4,243.4 L270.0,243.4 L270.6,244.3 L271.2,245.0 L271.8,244.8 L272.4,244.5 L273.0,243.7 L273.6,244.0 L274.2,244.6 L274.8,244.3 L275.4,244.1 L276.0,243.9 L276.6,244.1 L277.2,243.4 L277.8,243.6 L278.4,243.7 L279.0,243.3 L279.6,244.0 L280.2,244.4 L280.8,244.1 L281.4,243.2 L282.0,243.1 L282.6,243.9 L283.2,243.7 L283.8,243.4 L284.4,243.5 L285.0,243.6 L285.6,243.8 L286.2,244.3 L286.8,244.6 L287.4,244.5 L288.0,244.1 L288.6,244.5 L289.2,244.4 L289.8,244.1 L290.4,244.6 L291.0,244.8 L291.6,244.5 L292.2,244.4 L292.8,244.1 L293.4,243.9 L294.0,243.9 L294.6,244.7 L295.2,245.3 L295.8,245.2 L296.4,244.8 L297.0,244.3 L297.6,243.6 L298.2,243.3 L298.8,243.5 L299.4,243.3 L300.0,243.1 L300.6,243.0 L301.2,242.5 L301.8,242.4 L302.4,242.4 L303.0,242.4 L303.6,243.0 L304.2,243.2 L304.8,242.9 L305.4,243.3 L306.0,243.2 L306.6,242.0 L307.2,241.0 L307.8,239.9 L308.4,237.7 L309.0,235.6 L309.6,233.0 L310.2,230.6 L310.8,230.0 L311.4,231.1 L312.0,233.0 L312.6,235.1 L313.2,237.7 L313.8,239.8 L314.4,241.3 L315.0,242.2 L315.6,242.6 L316.2,242.5 L316.8,242.7 L317.4,242.8 L318.0,243.0 L318.6,243.6 L319.2,243.7 L319.8,243.1 L320.4,243.4 L321.0,244.1 L321.6,244.4 L322.2,244.4 L322.8,244.4 L323.4,243.9 L324.0,243.9 L324.6,244.1 L325.2,244.7 L325.8,244.3 L326.4,244.2 L327.0,244.3 L327.6,243.6 L328.2,244.1 L328.8,244.2 L329.4,244.0 L330.0,243.4 L330.6,243.3 L331.2,243.5 L331.8,243.9 L332.4,243.7 L333.0,242.9 L333.6,242.6 L334.2,242.6 L334.8,242.7 L335.4,243.3 L336.0,243.7 L336.6,243.7 L337.2,243.8 L337.8,243.9 L338.4,244.4 L339.0,244.2 L339.6,243.3 L340.2,243.7 L340.8,243.9 L341.4,243.6 L342.0,244.1 L342.6,244.0 L343.2,243.4 L343.8,243.6 L344.4,243.2 L345.0,243.5 L345.6,242.5 L346.2,241.7 L346.8,241.3 L347.4,241.5 L348.0,242.1 L348.6,242.2 L349.2,242.6 L349.8,243.2 L350.4,243.2 L351.0,243.1 L351.6,243.9 L352.2,244.6 L352.8,243.9 L353.4,243.7 L354.0,244.2 L354.6,243.9 L355.2,243.4 L355.8,244.5 L356.4,244.6 L357.0,244.0 L357.6,244.0 L358.2,243.7 L358.8,243.2 L359.4,242.9 L360.0,242.5 L360.6,242.0 L361.2,241.4 L361.8,240.9 L362.4,240.5 L363.0,240.8 L363.6,241.2 L364.2,241.3 L364.8,240.9 L365.4,241.5 L366.0,242.9 L366.6,242.5 L367.2,242.2 L367.8,242.6 L368.4,243.4 L369.0,243.7 L369.6,243.0 L370.2,243.3 L370.8,244.0 L371.4,243.7 L372.0,243.5 L372.6,243.3 L373.2,243.7 L373.8,244.6 L374.4,243.9 L375.0,243.5 L375.6,243.2 L376.2,243.6 L376.8,243.7 L377.4,243.7 L378.0,243.9 L378.6,243.6 L379.2,243.4 L379.8,243.0 L380.4,242.3 L381.0,241.9 L381.6,242.3 L382.2,241.5 L382.8,240.0 L383.4,239.7 L384.0,239.2 L384.6,237.6 L385.2,236.5 L385.8,235.7 L386.4,235.1 L387.0,234.3 L387.6,232.9 L388.2,232.2 L388.8,231.2 L389.4,230.4 L390.0,230.5 L390.6,230.5 L391.2,231.6 L391.8,232.9 L392.4,233.6 L393.0,234.8 L393.6,236.2 L394.2,237.0 L394.8,238.1 L395.4,239.2 L396.0,240.8 L396.6,242.2 L397.2,242.7 L397.8,243.4 L398.4,243.8 L399.0,243.8 L399.6,243.7 L400.2,243.9 L400.8,244.2 L401.4,244.1 L402.0,244.5 L402.6,244.9 L403.2,244.3 L403.8,243.9 L404.4,244.5 L405.0,245.1 L405.6,245.7 L406.2,245.7 L406.8,245.8 L407.4,245.8 L408.0,245.5 L408.6,245.2 L409.2,245.0 L409.8,245.1 L410.4,245.6 L411.0,245.5 L411.6,245.5 L412.2,245.5 L412.8,245.7 L413.4,245.8 L414.0,245.3 L414.6,245.3 L415.2,244.9 L415.8,244.5 L416.4,244.7 L417.0,245.2 L417.6,245.1 L418.2,244.7 L418.8,245.4 L419.4,245.8 L420.0,245.2 L420.6,245.6 L421.2,245.5 L421.8,245.5 L422.4,246.0 L423.0,246.2 L423.6,245.8 L424.2,245.7 L424.8,245.5 L425.4,245.7 L426.0,245.5 L426.6,245.1 L427.2,245.1 L427.8,245.6 L428.4,245.5 L429.0,245.3 L429.6,244.3 L430.2,243.9 L430.8,244.6 L431.4,244.2 L432.0,242.9 L432.6,242.4 L433.2,242.8 L433.8,243.2 L434.4,243.7 L435.0,244.2 L435.6,244.7 L436.2,245.4 L436.8,244.8 L437.4,244.8 L438.0,245.0 L438.6,244.8 L439.2,244.6 L439.8,244.8 L440.4,245.4 L441.0,245.0 L441.6,244.9 L442.2,246.1 L442.8,245.7 L443.4,245.4 L444.0,244.8 L444.6,244.5 L445.2,244.7 L445.8,245.0 L446.4,245.1 L447.0,245.5 L447.6,245.4 L448.2,244.6 L448.8,244.1 L449.4,243.0 L450.0,241.9 L450.6,241.7 L451.2,241.3 L451.8,241.5 L452.4,242.0 L453.0,242.9 L453.6,244.1 L454.2,244.8 L454.8,244.9 L455.4,244.7 L456.0,245.4 L456.6,245.1 L457.2,245.1 L457.8,245.9 L458.4,245.7 L459.0,246.1 L459.6,246.2 L460.2,245.5 L460.8,245.6 L461.4,245.4 L462.0,245.7 L462.6,245.8 L463.2,245.7 L463.8,246.2 L464.4,246.1 L465.0,245.8 L465.6,245.2 L466.2,245.5 L466.8,245.7 L467.4,245.1 L468.0,244.9 L468.6,244.6 L469.2,244.8 L469.8,244.8 L470.4,244.9 L471.0,244.7 L471.6,244.7 L472.2,245.2 L472.8,245.4 L473.4,245.6 L474.0,245.5 L474.6,246.2 L475.2,245.8 L475.8,245.4 L476.4,245.7 L477.0,246.2 L477.6,246.3 L478.2,245.9 L478.8,245.8 L479.4,246.1 L480.0,246.5 L480.6,246.1 L481.2,246.0 L481.8,245.5 L482.4,245.5 L483.0,246.2 L483.6,245.8 L484.2,245.8 L484.8,245.4 L485.4,244.5 L486.0,244.6 L486.6,244.9 L487.2,245.3 L487.8,245.5 L488.4,245.4 L489.0,245.7 L489.6,245.7 L490.2,245.1 L490.8,245.1 L491.4,246.0 L492.0,245.7 L492.6,245.2 L493.2,246.2 L493.8,246.3 L494.4,246.1 L495.0,246.0 L495.6,246.7 L496.2,246.9 L496.8,246.4 L497.4,246.5 L498.0,246.9 L498.6,247.2 L499.2,247.4 L499.8,246.9 L500.4,246.2 L501.0,246.2 L501.6,247.3 L502.2,247.5 L502.8,246.9 L503.4,247.3 L504.0,247.0 L504.6,246.8 L505.2,246.9 L505.8,246.8 L506.4,247.2 L507.0,247.2 L507.6,246.8 L508.2,246.2 L508.8,246.0 L509.4,246.3 L510.0,246.6 L510.6,246.4 L511.2,246.1 L511.8,245.8 L512.4,246.5 L513.0,246.6 L513.6,246.6 L514.2,246.6 L514.8,246.3 L515.4,245.7 L516.0,246.2 L516.6,246.6 L517.2,246.4 L517.8,245.8 L518.4,245.1 L519.0,245.1 L519.6,245.5 L520.2,246.5 L520.8,247.1 L521.4,246.6 L522.0,246.6 L522.6,247.1 L523.2,247.0 L523.8,247.0 L524.4,247.3 L525.0,246.6 L525.6,246.2 L526.2,247.0 L526.8,247.0 L527.4,246.6 L528.0,246.3 L528.6,246.3 L529.2,246.6 L529.8,246.5 L530.4,245.9 L531.0,245.0 L531.6,245.3 L532.2,245.4 L532.8,245.1 L533.4,246.0 L534.0,246.5 L534.6,245.8" fill="none" stroke="#000" stroke-width="1.5" stroke-linejoin="round"/>
<path d="M46.8,269.5 L47.4,269.1 L48.0,269.4 L48.6,269.4 L49.2,269.8 L49.8,269.4 L50.4,269.1 L51.0,269.2 L51.6,269.1 L52.2,269.1 L52.8,269.5 L53.4,269.0 L54.0,269.2 L54.6,269.8 L55.2,269.4 L55.8,269.0 L56.4,269.3 L57.0,269.6 L57.6,269.5 L58.2,269.4 L58.8,270.1 L59.4,269.8 L60.0,269.6 L60.6,270.0 L61.2,270.6 L61.8,270.1 L62.4,269.6 L63.0,269.9 L63.6,269.9 L64.2,269.5 L64.8,270.0 L65.4,269.5 L66.0,269.4 L66.6,268.9 L67.2,268.4 L67.8,267.6 L68.4,267.6 L69.0,267.2 L69.6,265.7 L70.2,264.1 L70.8,263.2 L71.4,263.3 L72.0,263.8 L72.6,264.7 L73.2,265.5 L73.8,266.3 L74.4,267.4 L75.0,267.6 L75.6,267.7 L76.2,268.5 L76.8,269.0 L77.4,268.5 L78.0,268.3 L78.6,268.5 L79.2,267.2 L79.8,266.5 L80.4,266.9 L81.0,267.7 L81.6,268.2 L82.2,268.2 L82.8,268.6 L83.4,268.7 L84.0,268.8 L84.6,269.6 L85.2,269.6 L85.8,269.4 L86.4,269.5 L87.0,269.2 L87.6,268.9 L88.2,268.3 L88.8,267.8 L89.4,267.6 L90.0,267.7 L90.6,267.6 L91.2,266.6 L91.8,265.1 L92.4,264.2 L93.0,264.1 L93.6,265.2 L94.2,265.7 L94.8,266.3 L95.4,266.8 L96.0,267.7 L96.6,268.4 L97.2,268.6 L97.8,268.8 L98.4,269.3 L99.0,269.0 L99.6,269.3 L100.2,269.6 L100.8,269.2 L101.4,269.0 L102.0,269.2 L102.6,268.8 L103.2,268.6 L103.8,268.6 L104.4,268.9 L105.0,269.2 L105.6,269.5 L106.2,269.6 L106.8,268.9 L107.4,268.4 L108.0,268.8 L108.6,269.1 L109.2,269.2 L109.8,269.4 L110.4,270.1 L111.0,269.3 L111.6,268.9 L112.2,269.1 L112.8,268.7 L113.4,268.8 L114.0,269.1 L114.6,269.0 L115.2,268.7 L115.8,269.5 L116.4,269.7 L117.0,268.8 L117.6,268.6 L118.2,269.1 L118.8,269.2 L119.4,269.2 L120.0,269.0 L120.6,269.2 L121.2,269.1 L121.8,268.7 L122.4,268.3 L123.0,268.5 L123.6,268.8 L124.2,268.9 L124.8,268.6 L125.4,268.2 L126.0,268.4 L126.6,268.9 L127.2,268.4 L127.8,267.9 L128.4,268.3 L129.0,268.0 L129.6,268.1 L130.2,268.6 L130.8,268.7 L131.4,268.7 L132.0,269.2 L132.6,269.5 L133.2,269.3 L133.8,269.3 L134.4,270.0 L135.0,269.6 L135.6,268.8 L136.2,269.2 L136.8,269.2 L137.4,268.8 L138.0,268.8 L138.6,268.8 L139.2,268.9 L139.8,268.5 L140.4,268.4 L141.0,268.8 L141.6,268.6 L142.2,268.7 L142.8,268.8 L143.4,268.8 L144.0,269.5 L144.6,269.4 L145.2,268.9 L145.8,267.3 L146.4,266.5 L147.0,265.7 L147.6,264.7 L148.2,265.2 L148.8,265.5 L149.4,265.5 L150.0,266.8 L150.6,267.2 L151.2,267.6 L151.8,268.1 L152.4,268.6 L153.0,268.9 L153.6,269.3 L154.2,268.7 L154.8,268.2 L155.4,268.3 L156.0,268.2 L156.6,267.9 L157.2,268.1 L157.8,268.2 L158.4,267.6 L159.0,267.5 L159.6,268.0 L160.2,267.9 L160.8,267.5 L161.4,268.0 L162.0,268.4 L162.6,267.3 L163.2,266.6 L163.8,266.9 L164.4,266.8 L165.0,266.4 L165.6,266.5 L166.2,266.5 L166.8,265.9 L167.4,265.1 L168.0,265.5 L168.6,265.9 L169.2,266.2 L169.8,265.5 L170.4,265.6 L171.0,266.0 L171.6,265.5 L172.2,264.6 L172.8,263.8 L173.4,263.0 L174.0,261.4 L174.6,259.4 L175.2,258.1 L175.8,257.1 L176.4,257.3 L177.0,258.8 L177.6,260.4 L178.2,261.3 L178.8,262.3 L179.4,262.6 L180.0,262.2 L180.6,260.9 L181.2,260.2 L181.8,259.8 L182.4,259.5 L183.0,259.9 L183.6,261.5 L184.2,263.0 L184.8,263.7 L185.4,264.3 L186.0,265.2 L186.6,265.8 L187.2,266.6 L187.8,266.5 L188.4,265.9 L189.0,266.5 L189.6,267.3 L190.2,267.4 L190.8,267.7 L191.4,268.2 L192.0,267.9 L192.6,267.3 L193.2,267.1 L193.8,267.2 L194.4,267.7 L195.0,267.6 L195.6,267.7 L196.2,267.7 L196.8,268.2 L197.4,268.6 L198.0,268.1 L198.6,268.1 L199.2,268.1 L199.8,268.2 L200.4,268.5 L201.0,269.1 L201.6,269.7 L202.2,269.1 L202.8,268.6 L203.4,268.1 L204.0,268.0 L204.6,268.2 L205.2,267.2 L205.8,266.8 L206.4,266.5 L207.0,265.4 L207.6,265.0 L208.2,265.3 L208.8,265.7 L209.4,266.3 L210.0,267.6 L210.6,268.8 L211.2,269.2 L211.8,268.9 L212.4,268.3 L213.0,268.9 L213.6,268.9 L214.2,268.3 L214.8,268.5 L215.4,269.4 L216.0,270.3 L216.6,270.0 L217.2,269.9 L217.8,269.9 L218.4,269.9 L219.0,270.2 L219.6,270.2 L220.2,270.3 L220.8,270.1 L221.4,269.4 L222.0,269.6 L222.6,269.6 L223.2,269.1 L223.8,268.5 L224.4,267.1 L225.0,266.8 L225.6,266.4 L226.2,266.7 L226.8,266.7 L227.4,266.7 L228.0,267.7 L228.6,268.3 L229.2,268.2 L229.8,268.0 L230.4,267.9 L231.0,267.7 L231.6,267.2 L232.2,267.6 L232.8,267.6 L233.4,268.0 L234.0,268.3 L234.6,268.7 L235.2,269.3 L235.8,268.9 L236.4,268.8 L237.0,269.3 L237.6,269.7 L238.2,270.2 L238.8,269.9 L239.4,270.4 L240.0,271.0 L240.6,271.0 L241.2,270.9 L241.8,270.8 L242.4,271.1 L243.0,271.4 L243.6,271.5 L244.2,271.9 L244.8,271.6 L245.4,271.9 L246.0,271.4 L246.6,270.8 L247.2,271.6 L247.8,271.4 L248.4,271.6 L249.0,271.7 L249.6,271.4 L250.2,271.4 L250.8,271.4 L251.4,271.5 L252.0,271.7 L252.6,271.6 L253.2,272.1 L253.8,272.1 L254.4,271.3 L255.0,271.8 L255.6,272.6 L256.2,272.6 L256.8,273.1 L257.4,272.7 L258.0,272.6 L258.6,273.2 L259.2,273.2 L259.8,273.0 L260.4,272.1 L261.0,271.6 L261.6,272.9 L262.2,272.4 L262.8,271.9 L263.4,272.6 L264.0,272.9 L264.6,273.0 L265.2,272.5 L265.8,272.0 L266.4,272.6 L267.0,272.4 L267.6,272.6 L268.2,273.3 L268.8,273.5 L269.4,273.3 L270.0,272.2 L270.6,272.0 L271.2,273.1 L271.8,273.3 L272.4,272.9 L273.0,273.3 L273.6,273.4 L274.2,272.5 L274.8,272.5 L275.4,273.0 L276.0,272.8 L276.6,272.5 L277.2,272.8 L277.8,273.0 L278.4,272.5 L279.0,272.2 L279.6,272.7 L280.2,272.6 L280.8,272.8 L281.4,273.1 L282.0,272.9 L282.6,272.6 L283.2,273.4 L283.8,273.6 L284.4,273.1 L285.0,273.0 L285.6,273.2 L286.2,272.4 L286.8,272.7 L287.4,273.0 L288.0,273.1 L288.6,273.0 L289.2,273.2 L289.8,273.0 L290.4,272.9 L291.0,273.0 L291.6,273.2 L292.2,273.3 L292.8,272.8 L293.4,272.4 L294.0,273.3 L294.6,274.0 L295.2,273.8 L295.8,273.4 L296.4,273.0 L297.0,272.9 L297.6,273.2 L298.2,272.9 L298.8,272.8 L299.4,273.2 L300.0,273.1 L300.6,272.7 L301.2,272.6 L301.8,272.3 L302.4,272.5 L303.0,272.9 L303.6,272.0 L304.2,272.2 L304.8,272.4 L305.4,271.5 L306.0,271.4 L306.6,271.0 L307.2,270.0 L307.8,269.9 L308.4,268.6 L309.0,267.8 L309.6,267.6 L310.2,267.3 L310.8,267.2 L311.4,268.0 L312.0,268.6 L312.6,269.1 L313.2,270.1 L313.8,270.6 L314.4,271.7 L315.0,272.3 L315.6,272.0 L316.2,272.4 L316.8,272.5 L317.4,272.7 L318.0,273.0 L318.6,272.9 L319.2,272.7 L319.8,272.8 L320.4,273.3 L321.0,273.3 L321.6,273.0 L322.2,272.3 L322.8,273.2 L323.4,273.9 L324.0,273.2 L324.6,272.9 L325.2,272.7 L325.8,272.3 L326.4,272.4 L327.0,272.6 L327.6,272.7 L328.2,272.2 L328.8,272.2 L329.4,272.9 L330.0,272.9 L330.6,272.7 L331.2,272.2 L331.8,272.2 L332.4,272.7 L333.0,272.4 L333.6,272.2 L334.2,272.5 L334.8,272.6 L335.4,272.7 L336.0,273.0 L336.6,273.1 L337.2,273.1 L337.8,272.7 L338.4,272.8 L339.0,273.1 L339.6,273.4 L340.2,273.5 L340.8,273.4 L341.4,273.5 L342.0,273.8 L342.6,273.8 L343.2,273.6 L343.8,273.6 L344.4,273.6 L345.0,273.5 L345.6,273.3 L346.2,272.9 L346.8,272.8 L347.4,273.4 L348.0,273.4 L348.6,272.7 L349.2,272.5 L349.8,272.6 L350.4,272.9 L351.0,272.5 L351.6,272.1 L352.2,272.5 L352.8,272.3 L353.4,272.1 L354.0,272.5 L354.6,272.6 L355.2,272.6 L355.8,272.2 L356.4,271.4 L357.0,270.5 L357.6,270.1 L358.2,270.1 L358.8,269.6 L359.4,269.3 L360.0,269.3 L360.6,269.0 L361.2,268.6 L361.8,268.5 L362.4,268.3 L363.0,268.5 L363.6,268.5 L364.2,268.9 L364.8,270.0 L365.4,270.2 L366.0,270.3 L366.6,270.3 L367.2,270.8 L367.8,271.2 L368.4,271.2 L369.0,271.5 L369.6,271.3 L370.2,271.5 L370.8,272.1 L371.4,271.8 L372.0,272.1 L372.6,272.3 L373.2,272.1 L373.8,272.4 L374.4,272.2 L375.0,272.2 L375.6,272.2 L376.2,271.9 L376.8,271.8 L377.4,272.0 L378.0,272.1 L378.6,272.5 L379.2,272.1 L379.8,271.8 L380.4,271.4 L381.0,271.0 L381.6,271.5 L382.2,271.2 L382.8,270.8 L383.4,271.2 L384.0,271.5 L384.6,271.3 L385.2,270.9 L385.8,271.2 L386.4,271.1 L387.0,270.0 L387.6,270.2 L388.2,270.3 L388.8,269.4 L389.4,269.3 L390.0,269.2 L390.6,268.9 L391.2,268.8 L391.8,268.1 L392.4,268.4 L393.0,268.8 L393.6,268.4 L394.2,268.4 L394.8,269.2 L395.4,269.5 L396.0,269.7 L396.6,270.4 L397.2,270.8 L397.8,270.4 L398.4,270.9 L399.0,271.6 L399.6,271.9 L400.2,272.1 L400.8,272.3 L401.4,272.3 L402.0,273.0 L402.6,272.9 L403.2,273.0 L403.8,273.7 L404.4,273.7 L405.0,273.9 L405.6,274.0 L406.2,273.2 L406.8,273.2 L407.4,273.5 L408.0,273.3 L408.6,273.5 L409.2,274.0 L409.8,274.0 L410.4,273.4 L411.0,273.4 L411.6,273.8 L412.2,273.4 L412.8,273.0 L413.4,273.2 L414.0,273.0 L414.6,272.9 L415.2,273.5 L415.8,273.9 L416.4,274.0 L417.0,273.9 L417.6,274.0 L418.2,274.1 L418.8,273.5 L419.4,273.3 L420.0,273.7 L420.6,273.5 L421.2,273.1 L421.8,273.2 L422.4,273.1 L423.0,272.6 L423.6,272.8 L424.2,273.3 L424.8,273.1 L425.4,273.2 L426.0,273.4 L426.6,273.3 L427.2,272.7 L427.8,272.4 L428.4,272.2 L429.0,272.2 L429.6,273.0 L430.2,272.9 L430.8,272.6 L431.4,273.1 L432.0,272.7 L432.6,272.9 L433.2,273.6 L433.8,273.4 L434.4,273.2 L435.0,273.3 L435.6,272.4 L436.2,272.4 L436.8,272.7 L437.4,272.5 L438.0,272.4 L438.6,273.2 L439.2,273.5 L439.8,273.3 L440.4,273.3 L441.0,273.6 L441.6,273.6 L442.2,273.6 L442.8,273.3 L443.4,272.9 L444.0,273.1 L444.6,273.4 L445.2,273.9 L445.8,274.0 L446.4,273.9 L447.0,273.8 L447.6,273.3 L448.2,272.7 L448.8,272.8 L449.4,272.7 L450.0,272.8 L450.6,273.8 L451.2,273.9 L451.8,273.6 L452.4,273.4 L453.0,272.7 L453.6,272.7 L454.2,273.0 L454.8,273.2 L455.4,273.9 L456.0,273.2 L456.6,272.7 L457.2,272.9 L457.8,272.9 L458.4,272.7 L459.0,272.9 L459.6,273.2 L460.2,273.3 L460.8,272.8 L461.4,273.0 L462.0,272.8 L462.6,273.2 L463.2,273.4 L463.8,273.2 L464.4,273.6 L465.0,273.3 L465.6,273.1 L466.2,272.6 L466.8,273.1 L467.4,273.6 L468.0,273.6 L468.6,274.1 L469.2,274.2 L469.8,273.7 L470.4,273.9 L471.0,274.2 L471.6,274.7 L472.2,274.5 L472.8,274.4 L473.4,274.0 L474.0,274.2 L474.6,273.3 L475.2,272.9 L475.8,273.4 L476.4,273.2 L477.0,272.6 L477.6,272.9 L478.2,273.1 L478.8,272.9 L479.4,273.1 L480.0,272.9 L480.6,272.7 L481.2,272.6 L481.8,272.6 L482.4,272.9 L483.0,273.2 L483.6,273.2 L484.2,273.0 L484.8,273.6 L485.4,273.7 L486.0,273.0 L486.6,272.8 L487.2,272.9 L487.8,273.5 L488.4,273.3 L489.0,273.2 L489.6,273.8 L490.2,274.1 L490.8,273.7 L491.4,273.5 L492.0,273.7 L492.6,274.0 L493.2,273.9 L493.8,274.0 L494.4,273.0 L495.0,272.8 L495.6,273.8 L496.2,274.4 L496.8,274.4 L497.4,273.4 L498.0,273.6 L498.6,273.9 L499.2,273.5 L499.8,273.7 L500.4,274.4 L501.0,274.8 L501.6,274.7 L502.2,274.2 L502.8,274.6 L503.4,274.8 L504.0,274.1 L504.6,274.1 L505.2,274.4 L505.8,275.1 L506.4,274.8 L507.0,274.9 L507.6,274.7 L508.2,274.7 L508.8,274.1 L509.4,274.6 L510.0,275.3 L510.6,274.8 L511.2,274.5 L511.8,275.0 L512.4,275.1 L513.0,275.1 L513.6,274.9 L514.2,274.9 L514.8,274.2 L515.4,274.3 L516.0,274.8 L516.6,274.9 L517.2,274.9 L517.8,275.3 L518.4,275.3 L519.0,275.3 L519.6,275.2 L520.2,275.2 L520.8,274.9 L521.4,275.1 L522.0,274.8 L522.6,274.8 L523.2,274.8 L523.8,274.9 L524.4,275.0 L525.0,275.0 L525.6,275.0 L526.2,274.5 L526.8,274.7 L527.4,275.0 L528.0,274.9 L528.6,275.2 L529.2,275.6 L529.8,275.8 L530.4,275.8 L531.0,275.4 L531.6,275.2 L532.2,275.6 L532.8,276.3 L533.4,276.4 L534.0,275.8 L534.6,275.9" fill="none" stroke="#000" stroke-width="1.5" stroke-linejoin="round"/>
<path d="M46.8,321.3 H530" stroke="#000" stroke-width="1.4" fill="none"/>
<path d="M51.5,321.3V319.9M70.5,321.3V293.7M78.5,321.3V312M91.5,321.3V312M92.5,321.3V313.3M125.5,321.3V316.4M126.5,321.3V314.9M147.5,321.3V297.5M174.5,321.3V291.6M181.5,321.3V285.2M195.5,321.3V316.9M200.5,321.3V316.9M206.5,321.3V301M209.5,321.3V308.2M223.5,321.3V312.9M246.5,321.3V318.7M262.5,321.3V319.3M264.5,321.3V319.5M278.5,321.3V318.4M281.5,321.3V320M294.5,321.3V319.7M298.5,321.3V319.6M309.5,321.3V295.2M311.5,321.3V312.7M314.5,321.3V318.7M330.5,321.3V315.5M341.5,321.3V316.3M346.5,321.3V315.3M362.5,321.3V318.1M380.5,321.3V318.2M382.5,321.3V318.4M385.5,321.3V317.5M386.5,321.3V314.5M388.5,321.3V310.6M394.5,321.3V309.6M399.5,321.3V320.3M411.5,321.3V320.4M421.5,321.3V320.4M428.5,321.3V316.7M430.5,321.3V316.7M432.5,321.3V318.2M438.5,321.3V320.4M449.5,321.3V313.2M451.5,321.3V316M466.5,321.3V317.5M468.5,321.3V317.8M477.5,321.3V319.6M493.5,321.3V320.4M498.5,321.3V320.3M502.5,321.3V320.3M504.5,321.3V320.2M508.5,321.3V320.3M514.5,321.3V320.3M518.5,321.3V320.4" stroke="#000" stroke-width="1.25" fill="none"/>
<path d="M234.5,367V331.1M392.5,367V350.9M493.5,367V364.9M525.5,367V362.5" stroke="#000" stroke-width="1.25" fill="none"/>
<path d="M46.8,375.9 V9.55 H534.6 V375.9" stroke="#000" stroke-width="1.55" fill="none" stroke-linejoin="round"/>
<rect x="46.0" y="366.4" width="489.40000000000003" height="3.4" fill="#5a5a5a"/>
<path d="M46.0,366.9 H535.4" stroke="#151515" stroke-width="1.0" fill="none"/>
<path d="M46.0,368.95 H535.4" stroke="#000" stroke-width="1.7" fill="none"/>
<path d="M87.6,368V372.7M128.2,368V375.7M168.8,368V372.7M209.4,368V375.7M250.0,368V372.7M290.6,368V375.7M331.3,368V372.7M371.9,368V375.7M412.5,368V372.7M453.1,368V375.7M493.7,368V372.7" stroke="#000" stroke-width="1.3" fill="none"/>
<text class="b" x="46.8" y="396.8" font-size="20" text-anchor="middle">20</text>
<text class="b" x="128.0" y="396.8" font-size="20" text-anchor="middle">30</text>
<text class="b" x="209.2" y="396.8" font-size="20" text-anchor="middle">40</text>
<text class="b" x="290.4" y="396.8" font-size="20" text-anchor="middle">50</text>
<text class="b" x="371.7" y="396.8" font-size="20" text-anchor="middle">60</text>
<text class="b" x="452.9" y="396.8" font-size="20" text-anchor="middle">70</text>
<text class="b" x="534.1" y="396.8" font-size="20" text-anchor="middle">80</text>
<text class="b" x="223.4" y="420.6" font-size="21.3" textLength="92" lengthAdjust="spacingAndGlyphs">Two theta</text>
<text x="327.6" y="419.6" font-size="17">(°)</text>
<text class="b" transform="translate(21,261.5) rotate(-90)" font-size="21.3" textLength="83.6" lengthAdjust="spacingAndGlyphs">Intensity</text>
<text class="b" transform="translate(21,119.9) rotate(-90)" font-size="22.3" text-anchor="end">(a.u.)</text>
<circle cx="70.7" cy="79.6" r="3.2"/>
<circle cx="81" cy="95.3" r="3.2"/>
<circle cx="95.2" cy="96.2" r="3.2"/>
<circle cx="128.1" cy="104.1" r="3.2"/>
<circle cx="147.3" cy="85.7" r="3.2"/>
<circle cx="174.2" cy="77" r="3.2"/>
<circle cx="184" cy="68.3" r="3.2"/>
<circle cx="198.5" cy="105" r="3.2"/>
<circle cx="208.9" cy="89.2" r="3.2"/>
<circle cx="225.2" cy="107.2" r="3.2"/>
<circle cx="248.6" cy="113" r="3.2"/>
<circle cx="310.4" cy="89" r="3.2"/>
<circle cx="331" cy="114.7" r="3.2"/>
<circle cx="340.7" cy="112.7" r="3.2"/>
<circle cx="349.7" cy="112.6" r="3.2"/>
<circle cx="365.2" cy="108.6" r="3.2"/>
<circle cx="390" cy="104.8" r="3.2"/>
<circle cx="398.4" cy="103" r="3.2"/>
<circle cx="431.1" cy="116.1" r="3.2"/>
<circle cx="450.8" cy="109.5" r="3.2"/>
<circle cx="469" cy="116.8" r="3.2"/>
<circle cx="69.7" cy="175.6" r="3.2"/>
<circle cx="78.8" cy="188" r="3.2"/>
<circle cx="92.6" cy="188" r="3.2"/>
<circle cx="126.6" cy="190.8" r="3.2"/>
<circle cx="148.6" cy="183.6" r="3.2"/>
<circle cx="174.2" cy="176.5" r="3.2"/>
<circle cx="182.3" cy="169.9" r="3.2"/>
<circle cx="208" cy="187.8" r="3.2"/>
<circle cx="224.8" cy="190.7" r="3.2"/>
<circle cx="310.2" cy="187.6" r="3.2"/>
<circle cx="332.6" cy="197.2" r="3.2"/>
<circle cx="346.4" cy="197.6" r="3.2"/>
<circle cx="362.5" cy="197.6" r="3.2"/>
<circle cx="388.4" cy="186.1" r="3.2"/>
<circle cx="430.7" cy="197.9" r="3.2"/>
<circle cx="448.2" cy="193.1" r="3.2"/>
<circle cx="467" cy="200.5" r="3.2"/>
<circle cx="72.1" cy="217.9" r="3.2"/>
<circle cx="82.5" cy="227.7" r="3.2"/>
<circle cx="93.9" cy="226.7" r="3.2"/>
<circle cx="128.6" cy="229.7" r="3.2"/>
<circle cx="149.3" cy="220.1" r="3.2"/>
<circle cx="177.3" cy="213.6" r="3.2"/>
<circle cx="184.5" cy="209.6" r="3.2"/>
<circle cx="208.9" cy="223.2" r="3.2"/>
<circle cx="225.3" cy="227.1" r="3.2"/>
<circle cx="311.9" cy="222.7" r="3.2"/>
<circle cx="334.2" cy="235.8" r="3.2"/>
<circle cx="348.6" cy="234.9" r="3.2"/>
<circle cx="363.2" cy="234.5" r="3.2"/>
<circle cx="392.5" cy="220.7" r="3.2"/>
<circle cx="433.9" cy="236.6" r="3.2"/>
<circle cx="451.7" cy="234" r="3.2"/>
<circle cx="470.5" cy="239.8" r="3.2"/>
<circle cx="71.2" cy="254.1" r="3.2"/>
<circle cx="83.8" cy="260" r="3.2"/>
<circle cx="94.5" cy="255.9" r="3.2"/>
<circle cx="129" cy="261.2" r="3.2"/>
<circle cx="149.9" cy="257" r="3.2"/>
<circle cx="175.3" cy="249.3" r="3.2"/>
<circle cx="183.6" cy="254.4" r="3.2"/>
<circle cx="208.9" cy="254.8" r="3.2"/>
<circle cx="225.3" cy="259.8" r="3.2"/>
<circle cx="311.3" cy="259.8" r="3.2"/>
<circle cx="363.2" cy="260.9" r="3.2"/>
<circle cx="393.1" cy="262" r="3.2"/>
<text x="230.29999999999998" y="179.7" font-size="17.5">Δ</text>
<text x="231.0" y="217.7" font-size="17.5">Δ</text>
<text x="229.89999999999998" y="265.3" font-size="17.5">Δ</text>
<text transform="translate(72.7,74.9) rotate(-90)" font-size="16.8">(120)</text>
<text transform="translate(88.2,89.8) rotate(-90)" font-size="16.8">(101)</text>
<text transform="translate(104.9,89.2) rotate(-90)" font-size="16.8">(111)</text>
<text transform="translate(135.0,98.0) rotate(-90)" font-size="16.8">(210)</text>
<text transform="translate(151.5,80.0) rotate(-90)" font-size="16.8">(031)</text>
<text transform="translate(173.6,69.7) rotate(-90)" font-size="16.8">(131)</text>
<text transform="translate(190.2,61.3) rotate(-90)" font-size="16.8">(211)</text>
<text transform="translate(203.0,98.8) rotate(-90)" font-size="16.8">(012)</text>
<text transform="translate(218.8,83.7) rotate(-90)" font-size="16.8">(221)</text>
<text transform="translate(233.9,100.7) rotate(-90)" font-size="16.8">(041)</text>
<text transform="translate(256.5,106.8) rotate(-90)" font-size="16.8">(231)</text>
<text transform="translate(313.2,82.3) rotate(-90)" font-size="16.8">(222)</text>
<text transform="translate(329.8,106.8) rotate(-90)" font-size="16.8">(142)</text>
<text transform="translate(344.7,106.2) rotate(-90)" font-size="16.8">(160)</text>
<text transform="translate(359.0,102.5) rotate(-90)" font-size="16.8">(331)</text>
<text transform="translate(374.6,102.5) rotate(-90)" font-size="16.8">(031)</text>
<text transform="translate(391.8,98.0) rotate(-90)" font-size="16.8">(400)</text>
<text transform="translate(410.3,97.5) rotate(-90)" font-size="16.8">(260)</text>
<text transform="translate(434.5,109.5) rotate(-90)" font-size="16.8">(332)</text>
<text transform="translate(456.7,102.9) rotate(-90)" font-size="16.8">(431)</text>
<text transform="translate(473.3,110.1) rotate(-90)" font-size="16.8">(143)</text>
<text transform="translate(243.3,164.1) rotate(-90)" font-size="16.8">(200)</text>
<text class="b" x="532.4" y="121.5" font-size="16" text-anchor="end" word-spacing="2.2">1000 <tspan font-weight="normal" font-size="17">°</tspan><tspan dx="0.7">C</tspan></text>
<text class="b" x="532.4" y="201.6" font-size="16" text-anchor="end" word-spacing="2.2">950 <tspan font-weight="normal" font-size="17">°</tspan><tspan dx="0.7">C</tspan></text>
<text class="b" x="532.4" y="241.6" font-size="16" text-anchor="end" word-spacing="2.2">900 <tspan font-weight="normal" font-size="17">°</tspan><tspan dx="0.7">C</tspan></text>
<text class="b" x="532.4" y="270.6" font-size="16" text-anchor="end" word-spacing="2.2">850 <tspan font-weight="normal" font-size="17">°</tspan><tspan dx="0.7">C</tspan></text>
<circle cx="328.4" cy="24.6" r="3.1"/>
<text class="b" x="332.6" y="28.9" font-size="17.2">Mg<tspan font-size="16.5" dy="7">2</tspan><tspan dy="-7">SiO</tspan><tspan font-size="16.5" dy="7">4</tspan></text>
<text class="b" x="532.2" y="28.9" font-size="17" text-anchor="end">(JCPDS 34-0189)</text>
<text x="352.7" y="54.3" font-size="17.4">Δ</text>
<text class="b" x="363.9" y="54.3" font-size="17">MgO</text>
<text class="b" x="532.2" y="54.3" font-size="17" text-anchor="end">(JCPDS 89-7746)</text>
<text class="b" x="335.3" y="298.8" font-size="17">Mg<tspan font-size="16.5" dy="7.1">2</tspan><tspan dy="-7.1">SiO</tspan><tspan font-size="16.5" dy="7.1">4</tspan></text>
<text class="b" x="532.4" y="298.8" font-size="17" text-anchor="end">(JCPDS 34-0189)</text>
<text class="b" x="365.4" y="343" font-size="17">MgO (JCPDS 89-7746)</text>
</svg></body></html>
